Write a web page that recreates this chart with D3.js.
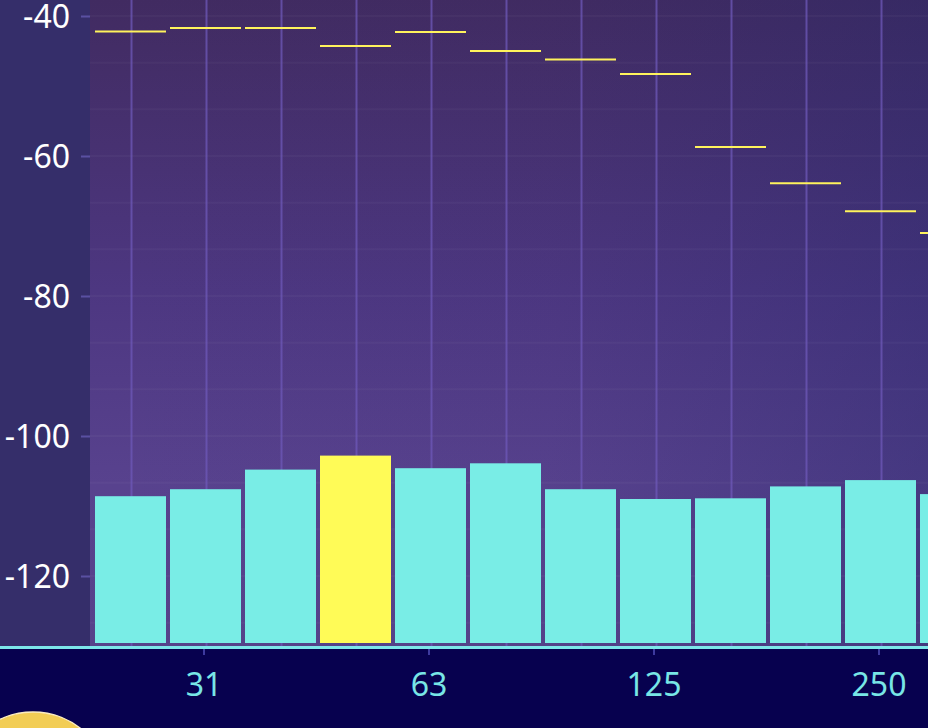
<!DOCTYPE html>
<html>
<head>
<meta charset="utf-8">
<script src="https://cdn.jsdelivr.net/npm/d3@7"></script>
<style>
  html, body { margin: 0; padding: 0; background: #07014f; }
  svg { display: block; }
  .axis text { font-family: "Noto Sans", Lato, sans-serif; }
</style>
</head>
<body>
<svg id="chart"></svg>
<script>
// third-octave bands shown on screen (Hz)
const bands = ["25", "31", "40", "50", "63", "80", "100", "125", "160", "200", "250", "315"];
// current level per band (dB)
const levels = [-108.6, -107.6, -104.8, -102.8, -104.6, -103.9, -107.6, -109.0, -108.9, -107.2, -106.3, -108.3];
// peak hold per band (dB)
const peaks = [-42.2, -41.7, -41.7, -44.3, -42.3, -45.0, -46.2, -48.3, -58.7, -63.9, -67.9, -71.0];
const selectedBand = "50";

const xTickLabels = ["31", "63", "125", "250"];
const yTickLabels = [-40, -60, -80, -100, -120];
// faint horizontal guides
const yGuides = [-40, -46.67, -53.33, -60, -66.67, -73.33, -80, -86.67, -93.33, -100, -106.67, -113.33, -120, -126.67];

class SpectrumChart {

    constructor(_config) {
        this.config = {
            parentElement: _config.parentElement,
            containerWidth: 928,
            containerHeight: 728,
            plotLeft: 90,
            plotTop: 16,
            plotBottom: 646,
            bandStart: 93,
            bandStep: 75
        };
        this.initVis();
    }

    initVis() {
        let vis = this;
        const c = vis.config;

        vis.svg = d3.select(c.parentElement)
            .attr('width', c.containerWidth)
            .attr('height', c.containerHeight);

        const defs = vis.svg.append('defs');
        const bgV = defs.append('linearGradient')
            .attr('id', 'bgV').attr('x1', 0).attr('y1', 0).attr('x2', 0).attr('y2', 1);
        bgV.append('stop').attr('offset', '0%').attr('stop-color', '#412b61');
        bgV.append('stop').attr('offset', '45%').attr('stop-color', '#4d3781');
        bgV.append('stop').attr('offset', '75%').attr('stop-color', '#58428e');
        bgV.append('stop').attr('offset', '100%').attr('stop-color', '#56438a');

        const bgH = defs.append('linearGradient')
            .attr('id', 'bgH').attr('x1', 0).attr('y1', 0).attr('x2', 1).attr('y2', 0);
        bgH.append('stop').attr('offset', '0%').attr('stop-color', '#2c2a70').attr('stop-opacity', 0);
        bgH.append('stop').attr('offset', '55%').attr('stop-color', '#2c2a70').attr('stop-opacity', 0.05);
        bgH.append('stop').attr('offset', '100%').attr('stop-color', '#23276a').attr('stop-opacity', 0.35);

        // left label panel
        vis.svg.append('rect')
            .attr('x', 0).attr('y', 0)
            .attr('width', c.plotLeft).attr('height', c.plotBottom)
            .attr('fill', '#352e6a');

        // plot background
        vis.svg.append('rect')
            .attr('x', c.plotLeft).attr('y', 0)
            .attr('width', c.containerWidth - c.plotLeft).attr('height', c.plotBottom)
            .attr('fill', 'url(#bgV)');
        vis.svg.append('rect')
            .attr('x', c.plotLeft).attr('y', 0)
            .attr('width', c.containerWidth - c.plotLeft).attr('height', c.plotBottom)
            .attr('fill', 'url(#bgH)');

        // bottom strip
        vis.svg.append('rect')
            .attr('x', 0).attr('y', c.plotBottom)
            .attr('width', c.containerWidth).attr('height', c.containerHeight - c.plotBottom)
            .attr('fill', '#07014f');

        vis.yScale = d3.scaleLinear()
            .domain([-130, -40])
            .range([c.plotBottom, c.plotTop]);

        vis.xScale = d3.scaleBand()
            .domain(bands)
            .range([c.bandStart, c.bandStart + c.bandStep * bands.length])
            .padding(0);

        vis.chart = vis.svg.append('g');
    }

    renderVis() {
        let vis = this;
        const c = vis.config;
        const bw = vis.xScale.bandwidth();

        // faint horizontal guides
        vis.chart.append('g')
            .selectAll('line')
            .data(yGuides)
            .join('line')
            .attr('x1', c.plotLeft).attr('x2', c.containerWidth)
            .attr('y1', d => vis.yScale(d)).attr('y2', d => vis.yScale(d))
            .attr('stroke', '#ffffff')
            .attr('stroke-opacity', 0.03)
            .attr('stroke-width', 2);

        // vertical guides at band centres
        vis.chart.append('g')
            .selectAll('line')
            .data(bands)
            .join('line')
            .attr('x1', d => vis.xScale(d) + bw / 2 + 1)
            .attr('x2', d => vis.xScale(d) + bw / 2 + 1)
            .attr('y1', 0).attr('y2', c.plotBottom)
            .attr('stroke', '#6d58b8')
            .attr('stroke-opacity', 0.75)
            .attr('stroke-width', 2);

        // level bars
        vis.chart.append('g')
            .selectAll('rect')
            .data(bands)
            .join('rect')
            .attr('x', d => vis.xScale(d) + 2)
            .attr('width', bw - 4)
            .attr('y', (d, i) => vis.yScale(levels[i]))
            .attr('height', (d, i) => vis.yScale(-130) - 3 - vis.yScale(levels[i]))
            .attr('fill', d => d === selectedBand ? '#fffb57' : '#79ede6');

        // peak hold markers
        vis.chart.append('g')
            .selectAll('line')
            .data(bands)
            .join('line')
            .attr('x1', d => vis.xScale(d) + 2)
            .attr('x2', d => vis.xScale(d) + bw - 2)
            .attr('y1', (d, i) => vis.yScale(peaks[i]))
            .attr('y2', (d, i) => vis.yScale(peaks[i]))
            .attr('stroke', '#fff35c')
            .attr('stroke-width', 2);

        // y axis (plain hyphen for the minus sign, as on the device)
        const yAxis = d3.axisLeft(vis.yScale)
            .tickValues(yTickLabels)
            .tickFormat(d => String(d))
            .tickSize(9)
            .tickPadding(11)
            .tickSizeOuter(0);
        const yAxisG = vis.svg.append('g')
            .attr('class', 'axis y-axis')
            .attr('transform', `translate(${c.plotLeft},0)`)
            .call(yAxis);
        yAxisG.select('.domain').remove();
        yAxisG.selectAll('.tick line')
            .attr('stroke', '#5a50a2')
            .attr('stroke-width', 2);
        yAxisG.selectAll('.tick text')
            .attr('fill', '#ffffff')
            .attr('dy', '0.36em')
            .style('font-size', '32px');

        // x axis
        const xAxis = d3.axisBottom(vis.xScale)
            .tickValues(xTickLabels)
            .tickSize(9)
            .tickPadding(18)
            .tickSizeOuter(0);
        const xAxisG = vis.svg.append('g')
            .attr('class', 'axis x-axis')
            .attr('transform', `translate(-1.5,${c.plotBottom})`)
            .call(xAxis);
        xAxisG.select('.domain').remove();
        xAxisG.selectAll('.tick line')
            .attr('stroke', '#3d3a9e')
            .attr('stroke-width', 2);
        xAxisG.selectAll('.tick text')
            .attr('fill', '#78e6e6')
            .style('font-size', '32px');

        // baseline
        vis.svg.append('line')
            .attr('x1', 0).attr('x2', c.containerWidth)
            .attr('y1', c.plotBottom + 1.5).attr('y2', c.plotBottom + 1.5)
            .attr('stroke', '#7de7ea')
            .attr('stroke-width', 3);

        // round button peeking in bottom-left corner
        vis.svg.append('circle')
            .attr('cx', 33).attr('cy', 789).attr('r', 77)
            .attr('fill', '#f2cd55')
            .attr('stroke', '#fbecc0')
            .attr('stroke-width', 1.5);
    }
}

const chart = new SpectrumChart({ parentElement: '#chart' });
chart.renderVis();
</script>
</body>
</html>
